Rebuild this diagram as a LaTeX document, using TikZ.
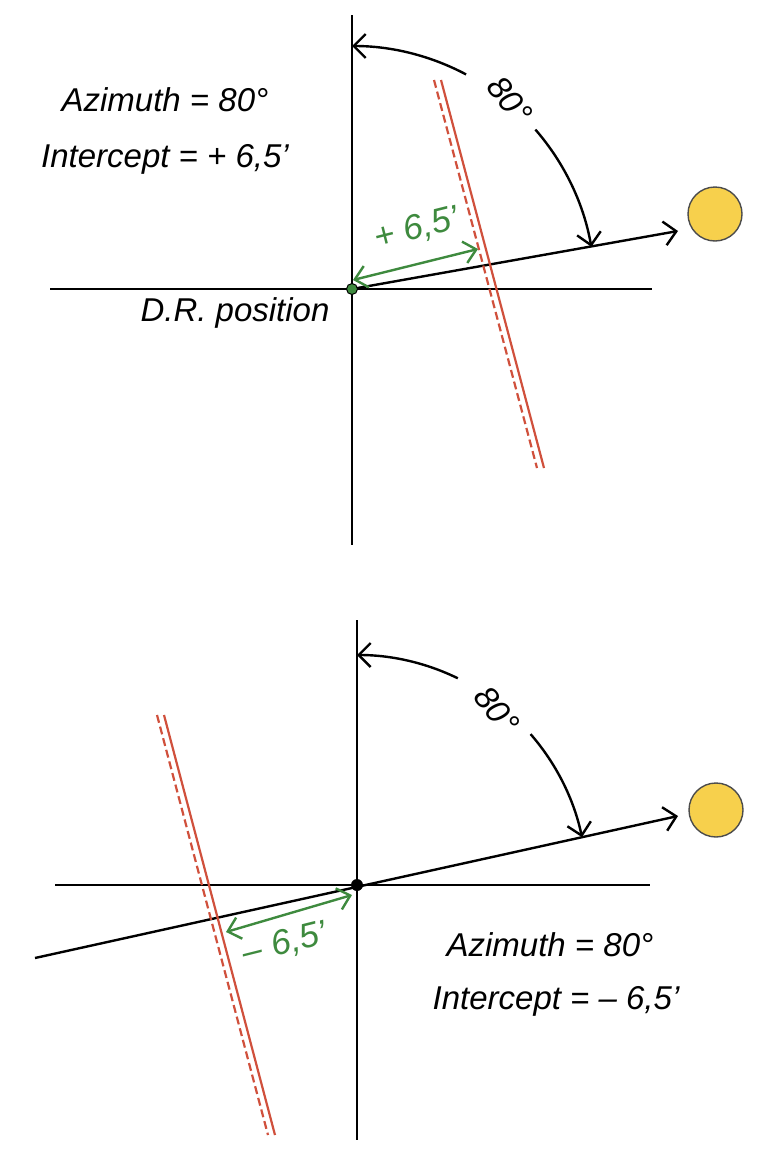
\documentclass[tikz,border=0pt]{standalone}
\usepackage{fontspec}
\setmainfont{Liberation Sans}
\usetikzlibrary{arrows.meta}
\definecolor{sunY}{HTML}{F7D04C}
\definecolor{redl}{HTML}{D0503C}
\definecolor{grn}{HTML}{3E8A3E}
\begin{document}
\begin{tikzpicture}[x=1pt,y=-1pt,
  axis/.style={line width=2.4pt},
  tip/.style={-{Straight Barb[length=12pt,width=24pt]}},
  arcline/.style={line width=2.4pt},
  lop/.style={redl,line width=2.2pt},
  lopd/.style={redl,line width=2.2pt,dash pattern=on 8pt off 4pt},
  garr/.style={grn,line width=2.4pt,{Straight Barb[length=12pt,width=22pt]}-{Straight Barb[length=12pt,width=22pt]}},
  lbl/.style={font=\fontsize{33}{38}\selectfont\itshape},
  glbl/.style={grn,font=\fontsize{35}{40}\selectfont\itshape},
  sun/.style={circle,draw=black!70,line width=1.4pt,fill=sunY,minimum size=54pt,inner sep=0pt}]
\useasboundingbox (0,0) rectangle (768,1162);
% ---- top ----
\coordinate (O1) at (352,289);
\coordinate (N1) at (352,15); \coordinate (S1) at (352,545);
\coordinate (W1) at (50,289); \coordinate (E1) at (652,289);
\draw[axis] (N1) -- (S1);
\draw[axis] (W1) -- (E1);
\coordinate (Z1) at (678,231);
\draw[axis,tip] (O1) -- (Z1);
\node[sun] (sun1) at (715,214) {};
\draw[arcline,{Straight Barb[length=12pt,width=24pt]}-] ([shift={(90:243pt)}]O1) arc[start angle=90,end angle=62,radius=243pt];
\draw[arcline,-{Straight Barb[length=12pt,width=24pt]}] ([shift={(41:243pt)}]O1) arc[start angle=41,end angle=10,radius=243pt];
\node[lbl,rotate=-52] (a1) at (510,100) {80°};
\coordinate (r1a) at (434,80); \coordinate (r1b) at (537,468);
\coordinate (r1c) at (441,80); \coordinate (r1d) at (544,468);
\draw[lopd] (r1a) -- (r1b);
\draw[lop] (r1c) -- (r1d);
\coordinate (g1a) at (353,280); \coordinate (g1b) at (478,249);
\draw[garr] (g1a) -- (g1b);
\node[glbl,rotate=14] (gl1) at (417,229) {+ 6,5’};
\node[circle,fill=grn,draw=black,line width=1pt,minimum size=11pt,inner sep=0pt] (d1) at (O1) {};
\node[lbl] (t1) at (165,100) {Azimuth = 80°};
\node[lbl] (t2) at (165,159) {Intercept = + 6,5’};
\node[lbl] (t3) at (235,313) {D.R. position};
% ---- bottom ----
\coordinate (O2) at (357,885);
\coordinate (N2) at (357,620); \coordinate (S2) at (357,1140);
\coordinate (W2) at (55,885); \coordinate (E2) at (650,885);
\draw[axis] (N2) -- (S2);
\draw[axis] (W2) -- (E2);
\coordinate (B2) at (35,958); \coordinate (Z2) at (678,816);
\draw[axis,tip] (B2) -- (Z2);
\node[sun] (sun2) at (716,810) {};
\draw[arcline,{Straight Barb[length=12pt,width=24pt]}-] ([shift={(90:230pt)}]O2) arc[start angle=90,end angle=64,radius=230pt];
\draw[arcline,-{Straight Barb[length=12pt,width=24pt]}] ([shift={(41:230pt)}]O2) arc[start angle=41,end angle=12,radius=230pt];
\node[lbl,rotate=-52] (a2) at (497,710) {80°};
\coordinate (r2a) at (157,715); \coordinate (r2b) at (268,1135);
\coordinate (r2c) at (164,715); \coordinate (r2d) at (275,1135);
\draw[lopd] (r2a) -- (r2b);
\draw[lop] (r2c) -- (r2d);
\coordinate (g2a) at (226,932); \coordinate (g2b) at (352,895);
\draw[garr] (g2a) -- (g2b);
\node[glbl,rotate=14] (gl2) at (285,944) {– 6,5’};
\node[circle,fill=black,minimum size=12pt,inner sep=0pt] (d2) at (O2) {};
\node[lbl] (t4) at (550,945) {Azimuth = 80°};
\node[lbl] (t5) at (556,1001) {Intercept = – 6,5’};
\end{tikzpicture}
\end{document}
